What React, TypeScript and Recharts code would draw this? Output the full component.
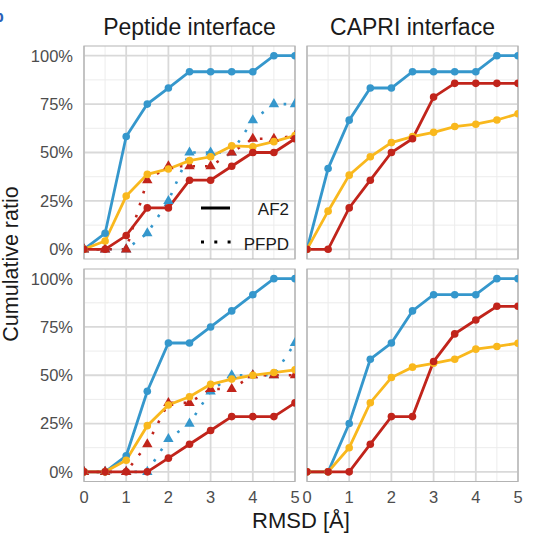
import React from "react";
import { CartesianGrid, Line, LineChart, ReferenceArea, XAxis, YAxis } from "recharts";

const rmsd = [0, 0.5, 1, 1.5, 2, 2.5, 3, 3.5, 4, 4.5, 5];

const xMajor = [0, 1, 2, 3, 4, 5];
const xMinor = [0.5, 1.5, 2.5, 3.5, 4.5];
const yMajor = [0, 0.25, 0.5, 0.75, 1];
const yMinor = [0.125, 0.375, 0.625, 0.875];

// Peptide interface, top row
const pepTopBlueAF2 = [0, 0.083, 0.583, 0.75, 0.833, 0.917, 0.917, 0.917, 0.917, 1, 1];
const pepTopYellowAF2 = [0, 0.043, 0.275, 0.387, 0.415, 0.458, 0.478, 0.534, 0.53, 0.556, 0.587];
const pepTopRedAF2 = [0, 0, 0.071, 0.214, 0.214, 0.357, 0.357, 0.429, 0.5, 0.5, 0.571];
const pepTopBluePFPD = [0, 0, 0, 0.083, 0.25, 0.5, 0.5, 0.5, 0.667, 0.75, 0.75];
const pepTopRedPFPD = [0, 0, 0, 0.357, 0.429, 0.429, 0.429, 0.5, 0.571, 0.571, 0.586];

// Peptide interface, bottom row
const pepBotBlueAF2 = [0, 0, 0.083, 0.417, 0.667, 0.667, 0.75, 0.833, 0.917, 1, 1];
const pepBotYellowAF2 = [0, 0, 0.06, 0.239, 0.346, 0.389, 0.453, 0.48, 0.5, 0.514, 0.528];
const pepBotRedAF2 = [0, 0, 0, 0, 0.071, 0.143, 0.214, 0.286, 0.286, 0.286, 0.357];
const pepBotBluePFPD = [0, 0, 0, 0, 0.17, 0.25, 0.417, 0.5, 0.5, 0.5, 0.667];
const pepBotRedPFPD = [0, 0, 0, 0.143, 0.357, 0.357, 0.429, 0.429, 0.5, 0.5, 0.5];

// CAPRI interface, top row
const capTopBlueAF2 = [0, 0.417, 0.667, 0.833, 0.833, 0.917, 0.917, 0.917, 0.917, 1, 1];
const capTopYellowAF2 = [0, 0.197, 0.383, 0.478, 0.551, 0.582, 0.604, 0.634, 0.646, 0.668, 0.7];
const capTopRedAF2 = [0, 0, 0.214, 0.357, 0.5, 0.571, 0.786, 0.857, 0.857, 0.857, 0.857];

// CAPRI interface, bottom row
const capBotBlueAF2 = [0, 0, 0.25, 0.583, 0.667, 0.833, 0.917, 0.917, 0.917, 1, 1];
const capBotYellowAF2 = [0, 0, 0.125, 0.358, 0.488, 0.542, 0.562, 0.583, 0.635, 0.649, 0.666];
const capBotRedAF2 = [0, 0, 0, 0.143, 0.286, 0.286, 0.571, 0.714, 0.786, 0.857, 0.857];

const BLUE = "#3597cc";
const YELLOW = "#f9b81d";
const RED = "#c1241b";
const FONT = "'Liberation Sans', Arial, sans-serif";

function rows(series: Record<string, number[]>) {
  return rmsd.map((x, i) => {
    const r: Record<string, number> = { x };
    for (const k of Object.keys(series)) r[k] = series[k][i];
    return r;
  });
}

function Triangle({ cx, cy, color }: { cx?: number; cy?: number; color: string }) {
  if (cx == null || cy == null) return <g />;
  const s = 5.2;
  return (
    <path
      d={`M${cx},${cy - s * 1.15}L${cx + s},${cy + s * 0.6}L${cx - s},${cy + s * 0.6}Z`}
      fill={color}
    />
  );
}

function Panel({
  data,
  left,
  top,
  width,
  height,
  showX,
  showY,
  pfpd,
}: {
  data: Record<string, number>[];
  left: number;
  top: number;
  width: number;
  height: number;
  showX: boolean;
  showY: boolean;
  pfpd: boolean;
}) {
  const tick = { fill: "#4d4d4d", fontSize: 16.5, fontFamily: FONT };
  const solid = (key: string, color: string) => (
    <Line
      key={key}
      type="linear"
      dataKey={key}
      stroke={color}
      strokeWidth={2.8}
      dot={{ r: 3.8, fill: color, stroke: color, strokeWidth: 0 }}
      activeDot={false}
      isAnimationActive={false}
    />
  );
  const dotted = (key: string, color: string) => (
    <Line
      key={key}
      type="linear"
      dataKey={key}
      stroke={color}
      strokeWidth={2.6}
      strokeDasharray="2.6 10"
      dot={(p: any) => <Triangle key={`${key}-${p.index}`} cx={p.cx} cy={p.cy} color={color} />}
      activeDot={false}
      isAnimationActive={false}
    />
  );
  return (
    <div style={{ position: "absolute", left, top }}>
      <LineChart width={width} height={height} data={data} margin={{ top: 0, right: 0, bottom: 0, left: 0 }}>
        <CartesianGrid verticalValues={xMinor} horizontalValues={yMinor} stroke="#ececec" strokeWidth={1} />
        <CartesianGrid verticalValues={xMajor} horizontalValues={yMajor} stroke="#d9d9d9" strokeWidth={1.8} />
        <XAxis
          type="number"
          dataKey="x"
          domain={[0, 5]}
          ticks={xMajor}
          interval={0}
          hide={!showX}
          allowDataOverflow
          height={30}
          axisLine={false}
          tickLine={false}
          tickSize={0}
          tickMargin={10}
          tick={tick}
        />
        <YAxis
          type="number"
          domain={[-0.05, 1.05]}
          ticks={yMajor}
          interval={0}
          hide={!showY}
          allowDataOverflow
          width={84}
          axisLine={false}
          tickLine={false}
          tickSize={0}
          tickMargin={11}
          tick={tick}
          tickFormatter={(v: number) => `${Math.round(v * 100)}%`}
        />
        {pfpd && dotted("bluePFPD", BLUE)}
        {pfpd && dotted("redPFPD", RED)}
        {solid("blueAF2", BLUE)}
        {solid("yellowAF2", YELLOW)}
        {solid("redAF2", RED)}
        <ReferenceArea x1={0} x2={5} y1={-0.05} y2={1.05} fill="none" stroke="#b3b3b3" strokeWidth={1.2} />
      </LineChart>
    </div>
  );
}

export default function App() {
  const pepTop = rows({
    blueAF2: pepTopBlueAF2,
    yellowAF2: pepTopYellowAF2,
    redAF2: pepTopRedAF2,
    bluePFPD: pepTopBluePFPD,
    redPFPD: pepTopRedPFPD,
  });
  const pepBot = rows({
    blueAF2: pepBotBlueAF2,
    yellowAF2: pepBotYellowAF2,
    redAF2: pepBotRedAF2,
    bluePFPD: pepBotBluePFPD,
    redPFPD: pepBotRedPFPD,
  });
  const capTop = rows({ blueAF2: capTopBlueAF2, yellowAF2: capTopYellowAF2, redAF2: capTopRedAF2 });
  const capBot = rows({ blueAF2: capBotBlueAF2, yellowAF2: capBotYellowAF2, redAF2: capBotRedAF2 });

  return (
    <div style={{ position: "absolute", left: 0, top: 0, width: 538, height: 540, background: "#fff", fontFamily: FONT }}>
      <style>{`.recharts-surface{overflow:visible}`}</style>
      <Panel data={pepTop} left={0} top={46} width={295} height={213} showX={false} showY pfpd />
      <Panel data={capTop} left={307} top={46} width={211} height={213} showX={false} showY={false} pfpd={false} />
      <Panel data={pepBot} left={0} top={269} width={295} height={242.5} showX showY pfpd />
      <Panel data={capBot} left={307} top={269} width={211} height={242.5} showX showY={false} pfpd={false} />
      <svg
        width={538}
        height={540}
        style={{ position: "absolute", left: 0, top: 0, pointerEvents: "none" }}
        fontFamily={FONT}
      >
        <text x={-6} y={22} fill="#2b62b8" fontSize={16} fontWeight="bold">b</text>
        <text x={189.5} y={35} textAnchor="middle" fontSize={23} fill="#1a1a1a">Peptide interface</text>
        <text x={412.5} y={35} textAnchor="middle" fontSize={23} fill="#1a1a1a">CAPRI interface</text>
        <text x={18} y={264} textAnchor="middle" fontSize={21.5} fill="#1a1a1a" transform="rotate(-90 18 264)">
          Cumulative ratio
        </text>
        <text x={301} y={528} textAnchor="middle" fontSize={22} fill="#1a1a1a">RMSD [Å]</text>
        <line x1={201} x2={230} y1={208} y2={208} stroke="#000" strokeWidth={3} />
        <line x1={201} x2={232} y1={242} y2={242} stroke="#000" strokeWidth={3} strokeDasharray="3 10.3" />
        <text x={289} y={215} textAnchor="end" fontSize={17} fill="#1a1a1a">AF2</text>
        <text x={289} y={250} textAnchor="end" fontSize={17} fill="#1a1a1a">PFPD</text>
      </svg>
    </div>
  );
}
